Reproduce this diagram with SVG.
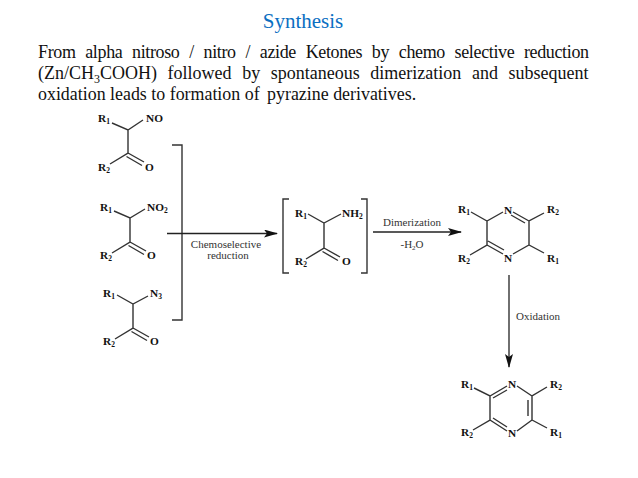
<svg xmlns="http://www.w3.org/2000/svg" width="638" height="478" viewBox="0 0 638 478">
<style>
text{font-family:"Liberation Serif","Times New Roman",serif;fill:#111}
.t{font-size:18px}
.h{font-size:21px;fill:#0b6fc2}
.a{font-size:11.300px;font-weight:bold}
.c{font-size:11px;fill:#333;text-anchor:middle}
.s{font-size:7.500px}
.b{fill:none;stroke:#333;stroke-width:1.4}
.ar{fill:none;stroke:#222;stroke-width:1.3}
</style>
<defs><marker id="h" markerWidth="14" markerHeight="8" refX="13" refY="4" orient="auto" markerUnits="userSpaceOnUse"><path d="M0 0L14 4L0 8L3 4Z" fill="#111"/></marker></defs>
<rect width="638" height="478" fill="#fff"/>
<g id="title"><text class="h" x="303" y="28" text-anchor="middle">Synthesis</text></g>
<g id="body">
<text class="t" x="38" y="57.500" textLength="551" lengthAdjust="spacing" style="word-spacing:5.6px">From alpha nitroso / nitro / azide Ketones by chemo selective reduction</text>
<text class="t" x="38" y="79" style="word-spacing:6.100px">(Zn/CH<tspan font-size="12" dy="4">3</tspan><tspan dy="-4">COOH) followed by spontaneous dimerization and subsequent</tspan></text>
<text class="t" x="38" y="99.500" style="font-size:17.900px">oxidation leads to formation of <tspan dx="3">pyrazine derivatives.</tspan></text>
</g>
<g id="m1"><path class="b" d="M112 123L128 130L143 120M128 130V153L110 164M128 153L144 162M126.500 156.500L142 165.500"/>
<text class="a" x="98" y="122">R<tspan class="s" dy="2">1</tspan></text><text class="a" x="146" y="122">NO</text><text class="a" x="98" y="171">R<tspan class="s" dy="2">2</tspan></text><text class="a" x="145" y="171">O</text></g>
<g id="m2"><path class="b" d="M114 211L130 218L145 209M130 218V242L112 253M130 242L146 251M128.500 245.500L144 254.500"/>
<text class="a" x="100" y="211">R<tspan class="s" dy="2">1</tspan></text><text class="a" x="147" y="211">NO<tspan class="s" dy="2">2</tspan></text><text class="a" x="100" y="259">R<tspan class="s" dy="2">2</tspan></text><text class="a" x="147" y="259">O</text></g>
<g id="m3"><path class="b" d="M117 295L133 304L148 296M133 304V328L115 339M133 328L149 337M131.500 331.500L147 340.500"/>
<text class="a" x="103" y="297">R<tspan class="s" dy="2">1</tspan></text><text class="a" x="150" y="297">N<tspan class="s" dy="2">3</tspan></text><text class="a" x="103" y="345">R<tspan class="s" dy="2">2</tspan></text><text class="a" x="150" y="345">O</text></g>
<g id="bracket1"><path class="b" d="M172 145H182V320H172"/></g>
<g id="m4"><path class="b" d="M289 199H283V273H289M361 199H367V273H361M308 214L324 223L341 214M324 223V248L306 259M324 248L340 257M322.500 251.500L338 260.500"/>
<text class="a" x="295" y="217">R<tspan class="s" dy="2">1</tspan></text><text class="a" x="342" y="217">NH<tspan class="s" dy="2">2</tspan></text><text class="a" x="295" y="265">R<tspan class="s" dy="2">2</tspan></text><text class="a" x="342" y="265">O</text></g>
<g id="m5"><path class="b" d="M471 212L487 221L503 212M487 221V245L470 255M487 245L503 254M488 241L504 250M513 254L529 245L544 253M529 245V221L544 213M529 221L513 212M525 223L511 215"/>
<text class="a" x="458" y="213">R<tspan class="s" dy="2">1</tspan></text><text class="a" x="504" y="214">N</text><text class="a" x="547" y="213">R<tspan class="s" dy="2">2</tspan></text><text class="a" x="458" y="262">R<tspan class="s" dy="2">2</tspan></text><text class="a" x="504" y="262">N</text><text class="a" x="547" y="262">R<tspan class="s" dy="2">1</tspan></text></g>
<g id="m6"><path class="b" d="M474 388L490 396L507 386M493 398L507 390M490 396V420L473 430M490 420L507 431M493 418L507 427M517 431L532 420L547 428M532 420V396L547 387M528 416V400M532 396L517 386"/>
<text class="a" x="461" y="388">R<tspan class="s" dy="2">1</tspan></text><text class="a" x="508" y="388">N</text><text class="a" x="550" y="388">R<tspan class="s" dy="2">2</tspan></text><text class="a" x="461" y="436">R<tspan class="s" dy="2">2</tspan></text><text class="a" x="508" y="437">N</text><text class="a" x="550" y="436">R<tspan class="s" dy="2">1</tspan></text></g>
<g id="connectors">
<line class="ar" x1="167" y1="233.500" x2="277" y2="233.500" marker-end="url(#h)"/>
<line class="ar" x1="373" y1="232" x2="461" y2="232" marker-end="url(#h)"/>
<line class="ar" x1="509" y1="275" x2="509" y2="367" marker-end="url(#h)"/>
<text class="c" x="226" y="248">Chemoselective</text><text class="c" x="228" y="259">reduction</text>
<text class="c" x="412" y="226">Dimerization</text><text class="c" x="412" y="248">-H<tspan font-size="7" dy="2">2</tspan><tspan dy="-2">O</tspan></text>
<text class="c" x="538" y="320">Oxidation</text>
</g>
</svg>
